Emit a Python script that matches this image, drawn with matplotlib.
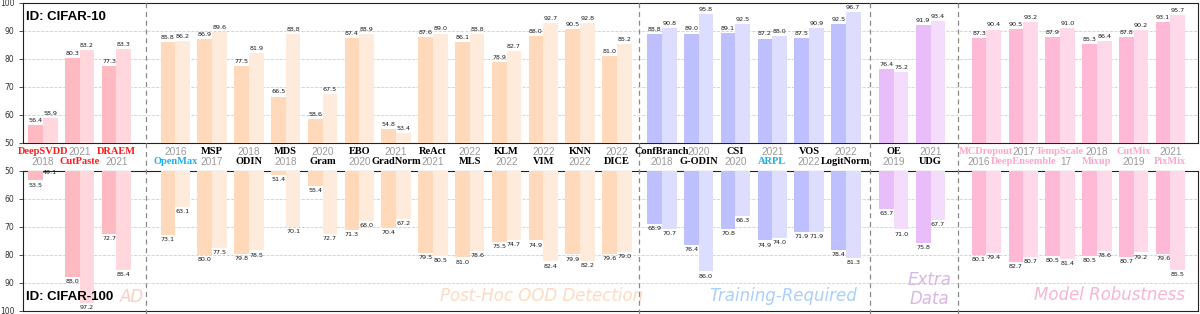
import numpy as np
import matplotlib
matplotlib.use("Agg")
import matplotlib.pyplot as plt
from matplotlib.lines import Line2D
from matplotlib.transforms import blended_transform_factory

# Data
methods = ['DeepSVDD', 'CutPaste', 'DRAEM',
           'OpenMax', 'MSP', 'ODIN', 'MDS', 'Gram', 'EBO', 'GradNorm', 'ReAct',
           'MLS', 'KLM', 'VIM', 'KNN', 'DICE',
           'ConfBranch', 'G-ODIN', 'CSI', 'ARPL', 'VOS', 'LogitNorm',
           'OE', 'UDG',
           'MCDropout', 'DeepEnsemble', 'TempScale', 'Mixup', 'CutMix', 'PixMix']
years = ['2018', '2021', '2021',
         '2016', '2017', '2018', '2018', '2020', '2020', '2021', '2021',
         '2022', '2022', '2022', '2022', '2022',
         '2018', '2020', '2020', '2021', '2022', '2022',
         '2019', '2021',
         '2016', '2017', '17', '2018', '2019', '2021']
group_sizes = [3, 13, 6, 2, 6]
group_names = ['AD', 'Post-Hoc OOD Detection', 'Training-Required', 'Extra\nData', 'Model Robustness']

c10_near = [56.4, 80.3, 77.3,
            85.8, 86.9, 77.5, 66.5, 58.6, 87.4, 54.8, 87.6, 86.1, 78.9, 88.0, 90.5, 81.0,
            88.8, 89.0, 89.1, 87.2, 87.5, 92.5,
            76.4, 91.9,
            87.3, 90.5, 87.9, 85.3, 87.8, 93.1]
c10_far = [58.9, 83.2, 83.3,
           86.2, 89.6, 81.9, 88.8, 67.5, 88.9, 53.4, 89.0, 88.8, 82.7, 92.7, 92.8, 85.2,
           90.8, 95.8, 92.5, 88.0, 90.9, 96.7,
           75.2, 93.4,
           90.4, 93.2, 91.0, 86.4, 90.2, 95.7]
c100_near = [53.5, 88.0, 72.7,
             73.1, 80.0, 79.8, 51.4, 55.4, 71.3, 70.4, 79.5, 81.0, 75.5, 74.9, 79.9, 79.6,
             68.9, 76.4, 70.8, 74.9, 71.9, 78.4,
             63.7, 75.8,
             80.1, 82.7, 80.5, 80.5, 80.7, 79.6]
c100_far = [49.1, 97.2, 85.4,
            63.1, 77.5, 78.5, 70.1, 72.7, 68.0, 67.2, 80.5, 78.6, 74.7, 82.4, 82.2, 79.0,
            70.7, 86.0, 66.3, 74.0, 71.9, 81.3,
            71.0, 67.7,
            79.4, 80.7, 81.4, 78.6, 79.2, 85.5]

# Style
dark_cols = ['#FFB9C1', '#FFD9B9', '#BDBFFF', '#E9BDFA', '#FFB8D6']
light_cols = ['#FFD7DC', '#FFEBDB', '#DCDDFF', '#F3DCFC', '#FFD9E9']
name_cols = ['#FF1A1A', 'black', 'black', 'black', '#FFA6CB']
special_name_cols = {'OpenMax': '#1CB0EF', 'ARPL': '#1CB0EF'}
year_nudge = {'MCDropout': -0.22, 'TempScale': 0.15}
label_cols = ['#F9CFC3', '#FDDAC0', '#A9CFFB', '#D8B6E6', '#F7B5D2']
gap_before = [0, 0.6, 0.22, 0.3, 0.52]
bw = 0.4

# x positions with extra space between groups
pos, grp = [], []
x = 0.0
for g, n in enumerate(group_sizes):
    x += gap_before[g]
    for i in range(n):
        pos.append(x)
        grp.append(g)
        x += 1
pos = np.array(pos)

bounds = []
start = 0
for g, n in enumerate(group_sizes[:-1]):
    last = pos[start + n - 1]
    first = pos[start + n]
    bounds.append((last + first) / 2)
    start += n

fig = plt.figure(figsize=(12, 3.14), dpi=100)
ax1 = fig.add_axes([0.0194, 0.5455, 0.979, 0.4459])
ax2 = fig.add_axes([0.0194, 0.0105, 0.979, 0.4459])

xlim = (pos[0] - 0.53, pos[-1] + 0.75)

for ax in (ax1, ax2):
    ax.set_xlim(*xlim)
    ax.set_yticks([50, 60, 70, 80, 90, 100])
    ax.yaxis.grid(True, ls='--', color='#CFCFCF', lw=0.6)
    ax.set_axisbelow(True)
    ax.set_xticks([])
    ax.tick_params(axis='y', labelsize=5.5, colors='#333333', length=3, width=0.6)
    for s in ax.spines.values():
        s.set_color('#222222')
        s.set_linewidth(0.8)

ax1.set_ylim(50, 100)
ax2.set_ylim(100, 50)

for i in range(len(methods)):
    g = grp[i]
    xd, xl = pos[i] - bw / 2, pos[i] + bw / 2
    ax1.bar(xd, c10_near[i] - 50, bottom=50, width=bw, color=dark_cols[g], zorder=3)
    ax1.bar(xl, c10_far[i] - 50, bottom=50, width=bw, color=light_cols[g], zorder=3)
    ax2.bar(xd, c100_near[i] - 50, bottom=50, width=bw, color=dark_cols[g], zorder=3)
    ax2.bar(xl, c100_far[i] - 50, bottom=50, width=bw, color=light_cols[g], zorder=3)
    for xx, v in ((xd, c10_near[i]), (xl, c10_far[i])):
        ax1.annotate(f'{v:.1f}', (xx, v), xytext=(0, 1.5), textcoords='offset points',
                     ha='center', va='bottom', fontsize=4.6, color='#1a1a1a',
                     annotation_clip=False, zorder=5)
    for xx, v in ((xd, c100_near[i]), (xl, c100_far[i])):
        ax2.annotate(f'{v:.1f}', (xx, v), xytext=(0, -1.5), textcoords='offset points',
                     ha='center', va='top', fontsize=4.6, color='#1a1a1a',
                     annotation_clip=False, zorder=5)

# method names and years between the panels
tr = blended_transform_factory(ax1.transData, fig.transFigure)
row1, row2 = 1 - 152 / 314, 1 - 162 / 314
for i, m in enumerate(methods):
    col = special_name_cols.get(m, name_cols[grp[i]])
    ny, yy = (row1, row2) if i % 2 == 0 else (row2, row1)
    fig.text(pos[i], ny, m, transform=tr, ha='center', va='center',
             family='Liberation Serif', weight='bold', fontsize=7.5, color=col)
    fig.text(pos[i] + year_nudge.get(m, 0), yy, years[i], transform=tr, ha='center',
             va='center', family='Liberation Sans', fontsize=7.3, color='#9A9A9A')

# dashed separators through the whole figure
for b in bounds:
    fig.add_artist(Line2D([b, b], [0, 1], transform=tr, ls=(0, (4, 3)),
                          color='#8A8A8A', lw=0.9))

# group names in lower panel, right-aligned to their group edge
edges = bounds + [xlim[1]]
pads = [0.05, -0.1, 0.35, 0.2, 0.35]
ys = [95.1, 94.8, 94.8, 92.4, 94.5]
for g, name in enumerate(group_names):
    ax2.text(edges[g] - pads[g], ys[g], name, ha='right', va='center', ma='center',
             fontsize=12, style='italic', color=label_cols[g], family='DejaVu Sans',
             linespacing=1.1, zorder=6)

ax1.text(0.002, 0.9, 'ID: CIFAR-10', transform=ax1.transAxes, ha='left', va='center',
         family='Liberation Sans', weight='bold', fontsize=9.5, color='black', zorder=6)
ax2.text(0.002, 0.1, 'ID: CIFAR-100', transform=ax2.transAxes, ha='left', va='center',
         family='Liberation Sans', weight='bold', fontsize=9.5, color='black', zorder=6)

fig.savefig('out.png', dpi=100)
